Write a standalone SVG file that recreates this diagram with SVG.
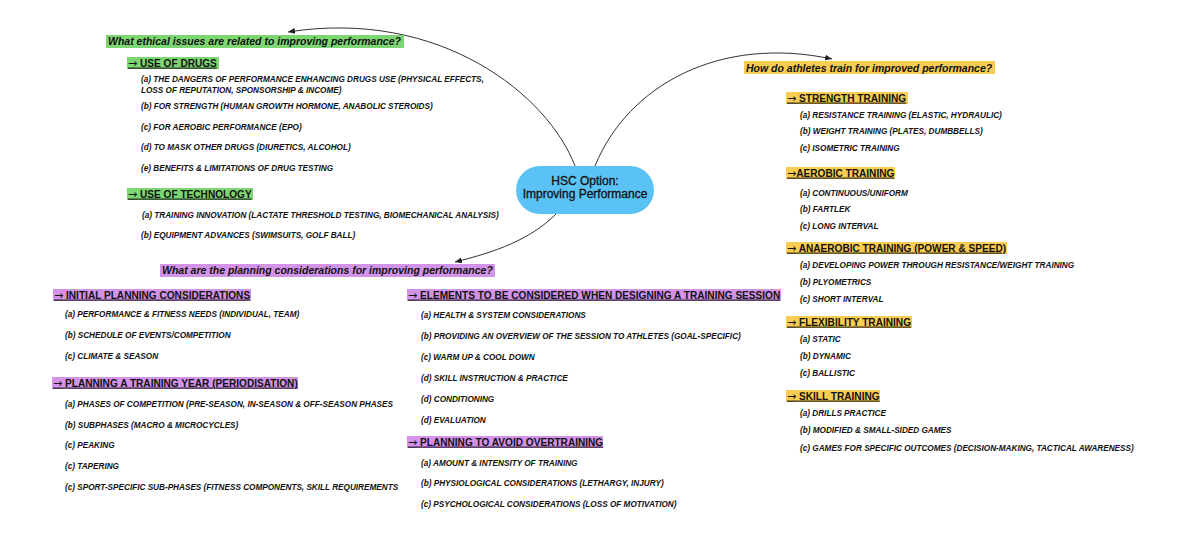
<svg xmlns="http://www.w3.org/2000/svg" width="1200" height="533" viewBox="0 0 1200 533">
<defs>
<marker id="ah" markerUnits="userSpaceOnUse" markerWidth="7" markerHeight="6" refX="7" refY="3" orient="auto">
<path d="M0,0 L7,3 L0,6 z" fill="#222"/>
</marker>
<style>
text{fill:#111;font-family:"Liberation Sans",Arial,sans-serif}
.q{font-style:italic;font-weight:bold;font-size:10.5px}
.h{font-weight:bold;font-size:10.1px;text-decoration:underline}
.a{font-family:"DejaVu Sans",sans-serif;font-weight:normal;font-size:11px}
.i{font-style:italic;font-weight:bold;font-size:8.2px}
.c{font-size:12px;text-anchor:middle;stroke:#111;stroke-width:0.3}
.g{fill:#7ed673}
.y{fill:#f9cd52}
.p{fill:#d393e8}
.con{fill:none;stroke:#333;stroke-width:1;marker-end:url(#ah)}
</style>
</defs>
<rect width="1200" height="533" fill="#fff"/>
<g id="connectors">
<path class="con" d="M575,166 C548,95 440,8 288,32"/>
<path class="con" d="M595,166 C628,85 720,35 832,59"/>
<path class="con" d="M556,214 C530,240 495,252 455,262"/>
</g>
<g id="center">
<rect x="516" y="166" width="138" height="48" rx="24" fill="#5bc2f5"/>
<text class="c" x="585" y="184.5">HSC Option:</text>
<text class="c" x="585" y="197.5">Improving Performance</text>
</g>
<g id="q-ethical">
<rect class="g" x="106" y="35" width="298" height="13"/>
<text class="q" x="108" y="44.5">What ethical issues are related to improving performance?</text>
</g>
<g id="drugs">
<rect class="g" x="127" y="57" width="92" height="12"/>
<text class="h" x="128" y="66.6"><tspan class="a">→</tspan> USE OF DRUGS</text>
<text class="i" x="141" y="82">(a) THE DANGERS OF PERFORMANCE ENHANCING DRUGS USE (PHYSICAL EFFECTS,</text>
<text class="i" x="141" y="93">LOSS OF REPUTATION, SPONSORSHIP &amp; INCOME)</text>
<text class="i" x="141" y="109">(b) FOR STRENGTH (HUMAN GROWTH HORMONE, ANABOLIC STEROIDS)</text>
<text class="i" x="141" y="130">(c) FOR AEROBIC PERFORMANCE (EPO)</text>
<text class="i" x="141" y="150">(d) TO MASK OTHER DRUGS (DIURETICS, ALCOHOL)</text>
<text class="i" x="141" y="171">(e) BENEFITS &amp; LIMITATIONS OF DRUG TESTING</text>
</g>
<g id="technology">
<rect class="g" x="127" y="188" width="126" height="12"/>
<text class="h" x="128" y="197.6"><tspan class="a">→</tspan> USE OF TECHNOLOGY</text>
<text class="i" x="142" y="218">(a) TRAINING INNOVATION (LACTATE THRESHOLD TESTING, BIOMECHANICAL ANALYSIS)</text>
<text class="i" x="141" y="238">(b) EQUIPMENT ADVANCES (SWIMSUITS, GOLF BALL)</text>
</g>
<g id="q-planning">
<rect class="p" x="160" y="264" width="335" height="13"/>
<text class="q" x="162" y="273.5">What are the planning considerations for improving performance?</text>
</g>
<g id="initial">
<rect class="p" x="53" y="289" width="198" height="12"/>
<text class="h" x="54" y="298.6"><tspan class="a">→</tspan> INITIAL PLANNING CONSIDERATIONS</text>
<text class="i" x="65" y="317">(a) PERFORMANCE &amp; FITNESS NEEDS (INDIVIDUAL, TEAM)</text>
<text class="i" x="65" y="338">(b) SCHEDULE OF EVENTS/COMPETITION</text>
<text class="i" x="65" y="359">(c) CLIMATE &amp; SEASON</text>
</g>
<g id="year">
<rect class="p" x="52" y="377" width="246" height="12"/>
<text class="h" x="53" y="386.6"><tspan class="a">→</tspan> PLANNING A TRAINING YEAR (PERIODISATION)</text>
<text class="i" x="65" y="407">(a) PHASES OF COMPETITION (PRE-SEASON, IN-SEASON &amp; OFF-SEASON PHASES</text>
<text class="i" x="65" y="428">(b) SUBPHASES (MACRO &amp; MICROCYCLES)</text>
<text class="i" x="65" y="448">(c) PEAKING</text>
<text class="i" x="65" y="469">(c) TAPERING</text>
<text class="i" x="65" y="490">(c) SPORT-SPECIFIC SUB-PHASES (FITNESS COMPONENTS, SKILL REQUIREMENTS</text>
</g>
<g id="session">
<rect class="p" x="407" y="289" width="374" height="12"/>
<text class="h" x="408" y="298.6"><tspan class="a">→</tspan> ELEMENTS TO BE CONSIDERED WHEN DESIGNING A TRAINING SESSION</text>
<text class="i" x="421" y="318">(a) HEALTH &amp; SYSTEM CONSIDERATIONS</text>
<text class="i" x="421" y="339">(b) PROVIDING AN OVERVIEW OF THE SESSION TO ATHLETES (GOAL-SPECIFIC)</text>
<text class="i" x="421" y="360">(c) WARM UP &amp; COOL DOWN</text>
<text class="i" x="421" y="381">(d) SKILL INSTRUCTION &amp; PRACTICE</text>
<text class="i" x="421" y="402">(d) CONDITIONING</text>
<text class="i" x="421" y="423">(d) EVALUATION</text>
</g>
<g id="overtraining">
<rect class="p" x="407" y="436" width="196" height="12"/>
<text class="h" x="408" y="445.6"><tspan class="a">→</tspan> PLANNING TO AVOID OVERTRAINING</text>
<text class="i" x="421" y="466">(a) AMOUNT &amp; INTENSITY OF TRAINING</text>
<text class="i" x="421" y="486">(b) PHYSIOLOGICAL CONSIDERATIONS (LETHARGY, INJURY)</text>
<text class="i" x="421" y="507">(c) PSYCHOLOGICAL CONSIDERATIONS (LOSS OF MOTIVATION)</text>
</g>
<g id="q-train">
<rect class="y" x="744" y="61" width="251" height="13"/>
<text class="q" x="746" y="71.5">How do athletes train for improved performance?</text>
</g>
<g id="strength">
<rect class="y" x="786" y="92" width="122" height="12"/>
<text class="h" x="787" y="101.6"><tspan class="a">→</tspan> STRENGTH TRAINING</text>
<text class="i" x="800" y="118">(a) RESISTANCE TRAINING (ELASTIC, HYDRAULIC)</text>
<text class="i" x="800" y="134">(b) WEIGHT TRAINING (PLATES, DUMBBELLS)</text>
<text class="i" x="800" y="151">(c) ISOMETRIC TRAINING</text>
</g>
<g id="aerobic">
<rect class="y" x="786" y="167" width="109" height="12"/>
<text class="h" x="787" y="176.6"><tspan class="a">→</tspan>AEROBIC TRAINING</text>
<text class="i" x="800" y="196">(a) CONTINUOUS/UNIFORM</text>
<text class="i" x="800" y="212">(b) FARTLEK</text>
<text class="i" x="800" y="229">(c) LONG INTERVAL</text>
</g>
<g id="anaerobic">
<rect class="y" x="786" y="242" width="221" height="12"/>
<text class="h" x="787" y="251.6"><tspan class="a">→</tspan> ANAEROBIC TRAINING (POWER &amp; SPEED)</text>
<text class="i" x="800" y="268">(a) DEVELOPING POWER THROUGH RESISTANCE/WEIGHT TRAINING</text>
<text class="i" x="800" y="285">(b) PLYOMETRICS</text>
<text class="i" x="800" y="302">(c) SHORT INTERVAL</text>
</g>
<g id="flexibility">
<rect class="y" x="786" y="316" width="126" height="12"/>
<text class="h" x="787" y="325.6"><tspan class="a">→</tspan> FLEXIBILITY TRAINING</text>
<text class="i" x="800" y="342">(a) STATIC</text>
<text class="i" x="800" y="359">(b) DYNAMIC</text>
<text class="i" x="800" y="376">(c) BALLISTIC</text>
</g>
<g id="skill">
<rect class="y" x="786" y="390" width="94" height="12"/>
<text class="h" x="787" y="399.6"><tspan class="a">→</tspan> SKILL TRAINING</text>
<text class="i" x="800" y="416">(a) DRILLS PRACTICE</text>
<text class="i" x="800" y="433">(b) MODIFIED &amp; SMALL-SIDED GAMES</text>
<text class="i" x="800" y="451">(c) GAMES FOR SPECIFIC OUTCOMES (DECISION-MAKING, TACTICAL AWARENESS)</text>
</g>
</svg>
